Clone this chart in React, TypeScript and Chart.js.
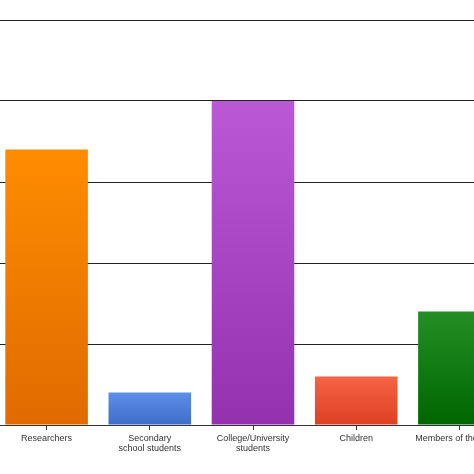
import React, { useEffect, useRef } from "react";
import { Chart, registerables } from "chart.js";

Chart.register(...registerables);

const categories: string[][] = [
  ["Researchers"],
  ["Secondary", "school students"],
  ["College/University", "students"],
  ["Children"],
  ["Members of the public"],
];
const values: number[] = [34, 4, 40, 6, 14];
const topColors: string[] = ["#FF8C00", "#5B8FE9", "#BA58D6", "#F76345", "#248E24"];
const bottomColors: string[] = ["#DF6B00", "#3D6DC9", "#9431AE", "#DE4022", "#006600"];
const yMin = 0;
const yMax = 50;
const yStep = 10;

export default function App() {
  const ref = useRef<HTMLCanvasElement | null>(null);
  useEffect(() => {
    if (!ref.current) return;
    const chart = new Chart(ref.current, {
      type: "bar",
      data: {
        labels: categories,
        datasets: [
          {
            data: values,
            backgroundColor: (ctx: any) => {
              const c = ctx.chart;
              const ys = c.scales && c.scales.y;
              const i = ctx.dataIndex ?? 0;
              if (!ys || ctx.raw === undefined) return topColors[i];
              const top = ys.getPixelForValue(ctx.raw);
              const bottom = ys.getPixelForValue(0);
              if (!isFinite(top) || !isFinite(bottom) || top === bottom) return topColors[i];
              const g = c.ctx.createLinearGradient(0, top, 0, bottom);
              g.addColorStop(0, topColors[i]);
              g.addColorStop(1, bottomColors[i]);
              return g;
            },
            borderWidth: 0,
            categoryPercentage: 0.8,
            barPercentage: 1,
          },
        ],
      },
      options: {
        responsive: false,
        animation: false,
        layout: { padding: { top: 20, left: 0, right: 0, bottom: 0 } },
        plugins: { legend: { display: false }, tooltip: { enabled: false } },
        scales: {
          x: {
            afterFit: (s: any) => {
              s.height = 49;
            },
            grid: {
              offset: false,
              drawOnChartArea: false,
              drawTicks: true,
              tickLength: 5,
              color: "#333333",
            },
            border: { display: true, color: "#333333", width: 1 },
            ticks: {
              color: "#333333",
              padding: 3,
              maxRotation: 0,
              autoSkip: false,
              font: { family: "'Liberation Sans', Arial, sans-serif", size: 9, lineHeight: 1.15 },
            },
          },
          y: {
            min: yMin,
            max: yMax,
            afterFit: (s: any) => {
              s.width = 0;
            },
            ticks: { display: false, stepSize: yStep },
            border: { display: false },
            grid: { color: "#222222", lineWidth: 1, drawTicks: false },
          },
        },
      },
    });
    return () => chart.destroy();
  }, []);
  return (
    <div
      style={{
        position: "fixed",
        left: 0,
        top: 0,
        width: 474,
        height: 474,
        overflow: "hidden",
        background: "#ffffff",
      }}
    >
      <canvas
        ref={ref}
        width={516}
        height={474}
        style={{ position: "absolute", left: -5, top: 0 }}
      />
    </div>
  );
}
